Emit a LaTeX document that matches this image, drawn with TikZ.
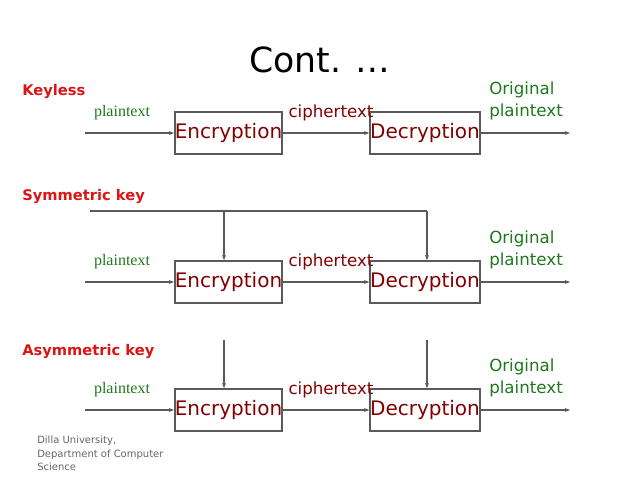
\documentclass[tikz,border=0pt]{standalone}
\usepackage{fontspec}
\setmainfont{Liberation Serif}
\newfontfamily\sansf{DejaVu Sans}
\usetikzlibrary{arrows.meta}
\definecolor{dred}{RGB}{130,0,0}
\definecolor{lred}{RGB}{220,20,20}
\definecolor{grn}{RGB}{30,120,30}
\definecolor{gline}{RGB}{90,90,90}
\begin{document}
\begin{tikzpicture}[x=0.75pt,y=-0.75pt,
  box/.style={draw=gline,line width=1.2pt,minimum width=80.25pt,minimum height=31.5pt,inner sep=0pt,text=dred,font=\sansf\fontsize{15}{15}\selectfont},
  conn/.style={draw=gline,line width=1.2pt,-{Stealth[length=4pt]}},
  keyline/.style={draw=gline,line width=1.2pt},
  head/.style={text=lred,font=\sansf\bfseries\fontsize{11}{11}\selectfont,anchor=west,inner sep=0pt},
  ptxt/.style={text=grn,font=\fontsize{12}{12}\selectfont,inner sep=0pt},
  ctxt/.style={text=dred,font=\sansf\fontsize{12.5}{12.5}\selectfont,inner sep=0pt},
  otxt/.style={text=grn,font=\sansf\fontsize{12.5}{16}\selectfont,align=left,anchor=west,inner sep=0pt}]
\useasboundingbox (0,0) rectangle (638,478);
\node[font=\sansf\fontsize{26}{26}\selectfont] (title) at (320,60) {Cont. \dots};
\foreach \r/\y in {a/133,b/282,c/410}{
  \node[box] (enc\r) at (228.5,\y) {Encryption};
  \node[box] (dec\r) at (425,\y) {Decryption};
  \coordinate (in\r) at (85,\y);
  \coordinate (out\r) at (570,\y);
  \draw[conn] (in\r) -- (enc\r);
  \draw[conn] (enc\r) -- (dec\r);
  \draw[conn] (dec\r) -- (out\r);
  \node[ptxt] (p\r) at (122,\y-20) {plaintext};
  \node[ctxt] (c\r) at (331,\y-20) {ciphertext};
  \node[otxt] (o\r) at (489,\y-32) {Original\\plaintext};
}
\node[head] (h1) at (22,92) {Keyless};
\node[head] (h2) at (22,197) {Symmetric key};
\node[head] (h3) at (22,352) {Asymmetric key};
\coordinate (ks) at (90,211);
\coordinate (k1) at (224,211);
\coordinate (k2) at (427,211);
\draw[keyline] (ks) -- (k2);
\draw[conn] (k1) -- (k1 |- encb.north);
\draw[conn] (k2) -- (k2 |- decb.north);
\coordinate (a1) at (224,340);
\coordinate (a2) at (427,340);
\draw[conn] (a1) -- (a1 |- encc.north);
\draw[conn] (a2) -- (a2 |- decc.north);
\node[anchor=north west,align=left,text=gray!80!black,font=\sansf\fontsize{7.5}{10}\selectfont,inner sep=0pt] (foot) at (37,436) {Dilla University,\\Department of Computer\\Science};
\end{tikzpicture}
\end{document}
